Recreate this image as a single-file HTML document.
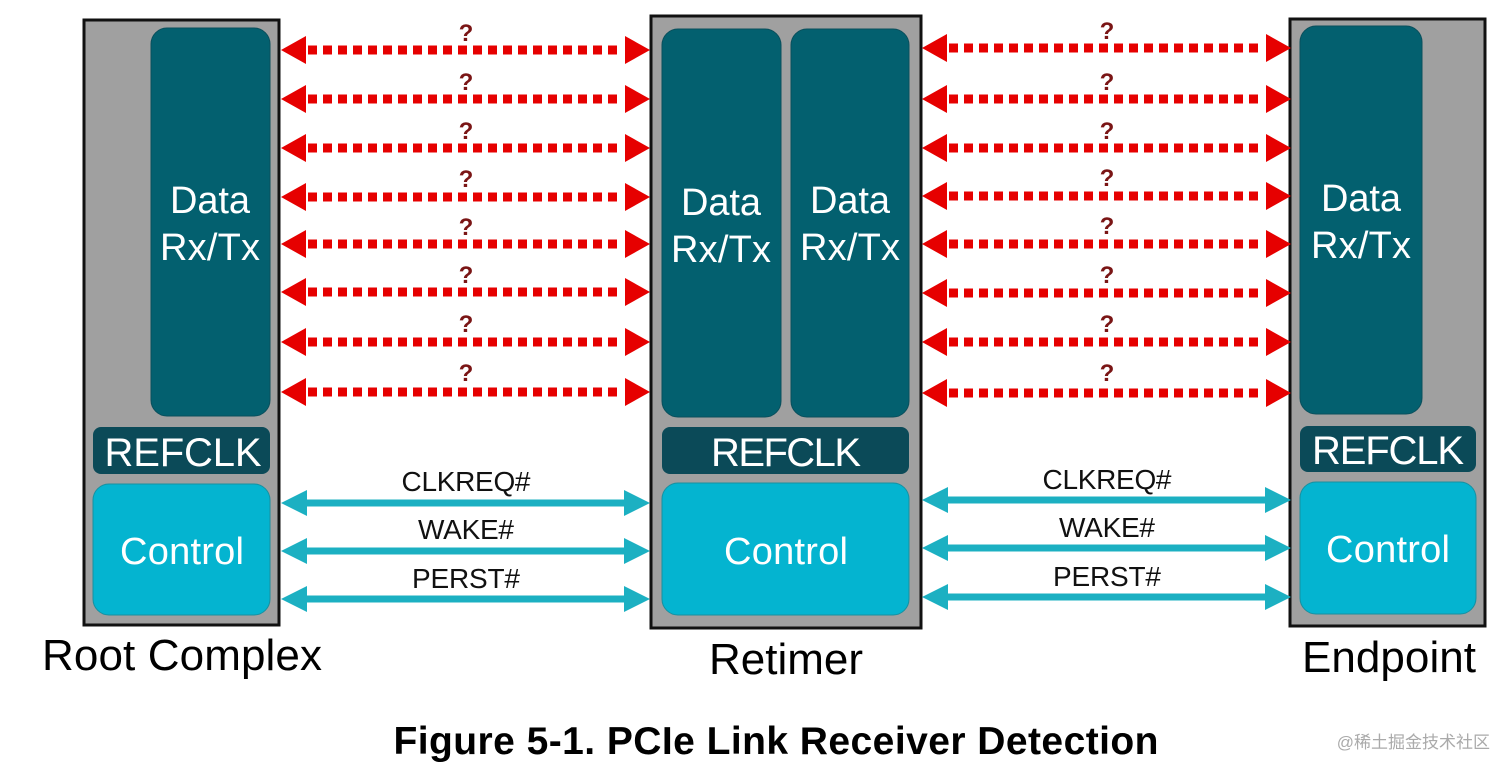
<!DOCTYPE html>
<html><head><meta charset="utf-8"><style>
body{margin:0;background:#fff;}
svg{display:block;font-family:"Liberation Sans",Arial,sans-serif;}
</style></head><body>
<svg width="1512" height="775" viewBox="0 0 1512 775" xmlns="http://www.w3.org/2000/svg">
<defs>
<g id="red">
<polygon points="0,0 25,-14 25,14" fill="#e60000"/>
<polygon points="369,0 344,-14 344,14" fill="#e60000"/>
<line x1="27" y1="0" x2="342" y2="0" stroke="#e60000" stroke-width="9" stroke-dasharray="9 6"/>
</g>
<g id="cyan">
<polygon points="0,0 26,-13 26,13" fill="#1cb0c2"/>
<polygon points="369,0 343,-13 343,13" fill="#1cb0c2"/>
<line x1="20" y1="0" x2="349" y2="0" stroke="#1cb0c2" stroke-width="7"/>
</g>
</defs>
<rect x="84" y="20" width="195" height="605" fill="#a0a0a0" stroke="#111" stroke-width="3"/>
<rect x="151" y="28" width="119" height="388" rx="16" fill="#03606f" stroke="#0a4f5c"/>
<rect x="93" y="427" width="177" height="47" rx="8" fill="#0b4a58"/>
<rect x="93" y="484" width="177" height="131" rx="16" fill="#04b4d0" stroke="#1790a0"/>
<rect x="651" y="16" width="270" height="612" fill="#a0a0a0" stroke="#111" stroke-width="3"/>
<rect x="662" y="29" width="119" height="388" rx="16" fill="#03606f" stroke="#0a4f5c"/>
<rect x="791" y="29" width="118" height="388" rx="16" fill="#03606f" stroke="#0a4f5c"/>
<rect x="662" y="427" width="247" height="47" rx="8" fill="#0b4a58"/>
<rect x="662" y="483" width="247" height="132" rx="16" fill="#04b4d0" stroke="#1790a0"/>
<rect x="1290" y="19" width="195" height="607" fill="#a0a0a0" stroke="#111" stroke-width="3"/>
<rect x="1300" y="26" width="122" height="388" rx="16" fill="#03606f" stroke="#0a4f5c"/>
<rect x="1300" y="426" width="176" height="46" rx="8" fill="#0b4a58"/>
<rect x="1300" y="482" width="176" height="132" rx="16" fill="#04b4d0" stroke="#1790a0"/>
<g fill="#fff" font-size="38" text-anchor="middle">
<text x="210" y="213" textLength="80">Data</text>
<text x="210" y="260" textLength="100">Rx/Tx</text>
<text x="183" y="466" font-size="40" textLength="157">REFCLK</text>
<text x="182" y="564" textLength="124">Control</text>
<text x="721" y="215" textLength="80">Data</text>
<text x="721" y="262" textLength="100">Rx/Tx</text>
<text x="850" y="213" textLength="80">Data</text>
<text x="850" y="260" textLength="100">Rx/Tx</text>
<text x="786" y="466" font-size="40" textLength="150">REFCLK</text>
<text x="786" y="564" textLength="124">Control</text>
<text x="1361" y="211" textLength="80">Data</text>
<text x="1361" y="258" textLength="100">Rx/Tx</text>
<text x="1388" y="464" font-size="40" textLength="152">REFCLK</text>
<text x="1388" y="562" textLength="124">Control</text>
</g>
<use href="#red" x="281" y="50"/><use href="#red" x="281" y="99"/><use href="#red" x="281" y="148"/><use href="#red" x="281" y="197"/>
<use href="#red" x="281" y="244"/><use href="#red" x="281" y="292"/><use href="#red" x="281" y="342"/><use href="#red" x="281" y="392"/>
<use href="#red" x="922" y="48"/><use href="#red" x="922" y="99"/><use href="#red" x="922" y="148"/><use href="#red" x="922" y="196"/>
<use href="#red" x="922" y="244"/><use href="#red" x="922" y="293"/><use href="#red" x="922" y="342"/><use href="#red" x="922" y="393"/>
<g fill="#7a1515" font-size="24" font-weight="bold" text-anchor="middle">
<text x="466" y="41">?</text><text x="466" y="90">?</text><text x="466" y="139">?</text><text x="466" y="187">?</text>
<text x="466" y="235">?</text><text x="466" y="283">?</text><text x="466" y="332">?</text><text x="466" y="381">?</text>
<text x="1107" y="39">?</text><text x="1107" y="90">?</text><text x="1107" y="139">?</text><text x="1107" y="186">?</text>
<text x="1107" y="234">?</text><text x="1107" y="283">?</text><text x="1107" y="332">?</text><text x="1107" y="381">?</text>
</g>
<use href="#cyan" x="281" y="503"/><use href="#cyan" x="281" y="551"/><use href="#cyan" x="281" y="599"/>
<use href="#cyan" x="922" y="500"/><use href="#cyan" x="922" y="548"/><use href="#cyan" x="922" y="597"/>
<g fill="#111" font-size="28" text-anchor="middle">
<text x="466" y="491" textLength="129">CLKREQ#</text><text x="466" y="539" textLength="96">WAKE#</text><text x="466" y="588" textLength="108">PERST#</text>
<text x="1107" y="489" textLength="129">CLKREQ#</text><text x="1107" y="537" textLength="96">WAKE#</text><text x="1107" y="586" textLength="108">PERST#</text>
</g>
<g fill="#000" font-size="44" text-anchor="middle">
<text x="182" y="670" textLength="280">Root Complex</text>
<text x="786" y="674" textLength="154">Retimer</text>
<text x="1389" y="672" textLength="174">Endpoint</text>
</g>
<text x="776" y="754" fill="#000" font-size="39" font-weight="bold" text-anchor="middle" textLength="765">Figure 5-1. PCIe Link Receiver Detection</text>
<text x="1490" y="748" fill="#aaa" font-size="17" text-anchor="end" font-family="'Liberation Sans','Noto Sans CJK SC',sans-serif">@稀土掘金技术社区</text>
</svg>
</body></html>
